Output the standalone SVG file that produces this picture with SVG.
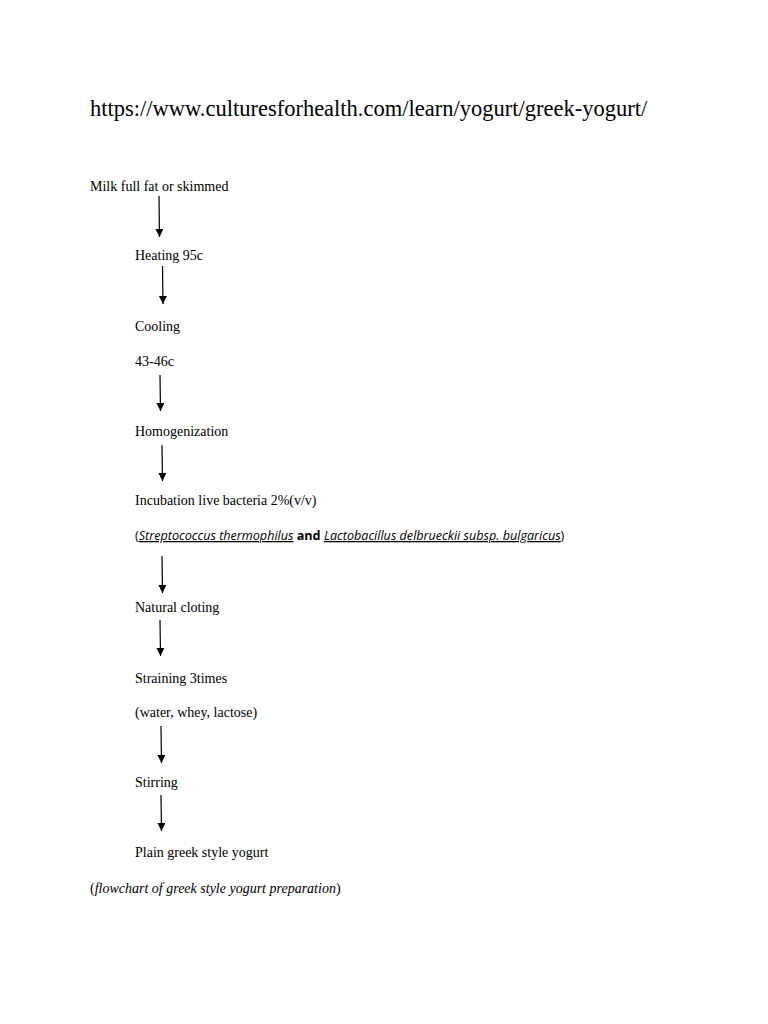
<svg xmlns="http://www.w3.org/2000/svg" width="768" height="1024" viewBox="0 0 768 1024">
<defs><marker id="ah" markerWidth="8" markerHeight="10" refX="4" refY="9" orient="auto" markerUnits="userSpaceOnUse"><path d="M0,0 L8,0 L4,9 Z" transform="rotate(-90 4 4.5)" fill="#000"/></marker>
<marker id="a" markerWidth="8" markerHeight="9" refX="8" refY="4" orient="auto" markerUnits="userSpaceOnUse"><path d="M0,0 L8,4 L0,8 Z" fill="#000"/></marker></defs>
<style>
text{font-family:"Liberation Serif",serif;font-size:14px;fill:#000}
.c{font-family:"Open Sans","Liberation Sans",sans-serif;font-size:12.6px}
line{stroke:#000;stroke-width:1.2;marker-end:url(#a)}
</style>
<rect width="768" height="1024" fill="#fff"/>
<text x="90" y="116" style="font-size:22.5px">https://www.culturesforhealth.com/learn/yogurt/greek-yogurt/</text>
<g id="n1"><text x="90" y="191">Milk full fat or skimmed</text></g>
<g id="n2"><text x="135" y="260">Heating 95c</text></g>
<g id="n3"><text x="135" y="331">Cooling</text><text x="135" y="366">43-46c</text></g>
<g id="n4"><text x="135" y="436">Homogenization</text></g>
<g id="n5"><text x="135" y="505">Incubation live bacteria 2%(v/v)</text>
<text class="c" x="135" y="540">(<tspan font-style="italic" text-decoration="underline">Streptococcus thermophilus</tspan> <tspan font-weight="bold">and</tspan> <tspan font-style="italic" text-decoration="underline">Lactobacillus delbrueckii subsp. bulgaricus</tspan>)</text></g>
<g id="n6"><text x="135" y="612">Natural cloting</text></g>
<g id="n7"><text x="135" y="683">Straining 3times</text><text x="135" y="717">(water, whey, lactose)</text></g>
<g id="n8"><text x="135" y="787">Stirring</text></g>
<g id="n9"><text x="135" y="857">Plain greek style yogurt</text></g>
<text x="90" y="893">(<tspan font-style="italic">flowchart of greek style yogurt preparation</tspan>)</text>
<g id="connectors">
<line x1="159" y1="196" x2="159.5" y2="237"/>
<line x1="162.5" y1="266" x2="163" y2="304"/>
<line x1="160" y1="375" x2="160.5" y2="411"/>
<line x1="162" y1="445" x2="162.5" y2="481"/>
<line x1="162" y1="556" x2="162.5" y2="593"/>
<line x1="160" y1="620" x2="160.5" y2="656"/>
<line x1="161" y1="726" x2="161.5" y2="763"/>
<line x1="161" y1="795" x2="161.5" y2="831"/>
</g>
</svg>
